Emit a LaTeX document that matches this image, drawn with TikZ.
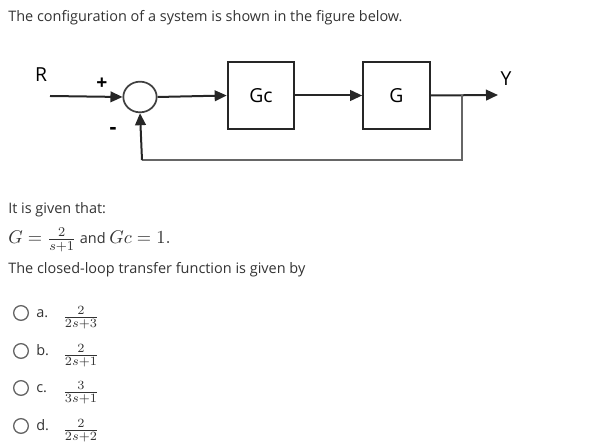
\documentclass[tikz,border=0pt]{standalone}
\usepackage{fontspec}
\setmainfont{Open Sans}
\usetikzlibrary{arrows.meta,shapes.geometric}
\definecolor{txt}{HTML}{333333}
\definecolor{radio}{HTML}{666666}
\newcommand{\mathbig}[1]{\scalebox{1.26}{$#1$}}
\begin{document}
\begin{tikzpicture}[x=0.75pt,y=-0.75pt,
  body/.style={anchor=base west,inner sep=0pt,text=txt,font=\fontsize{10.85}{13}\selectfont},
  blk/.style={draw=black!85,line width=1.5pt,minimum width=50pt,minimum height=50pt,inner sep=0pt,font=\fontsize{14.5}{16}\selectfont},
  sig/.style={line width=1.5pt,draw=black!85},
  arr/.style={sig,-{Triangle[length=9pt,width=8pt]}},
  lbl/.style={inner sep=0pt,font=\fontsize{14.5}{16}\selectfont},
  opt/.style={draw=radio,line width=1pt,circle,minimum size=11pt,inner sep=0pt},
  optl/.style={anchor=base west,inner sep=0pt,text=txt,font=\fontsize{10.85}{13}\selectfont},
  frac/.style={inner sep=0pt,text=txt}]
\useasboundingbox (0,0) rectangle (594,448);
\node[body] (title) at (8,22) {The configuration of a system is shown in the figure below.};
% diagram
\coordinate (rin) at (50,96);
\node[lbl] (R) at (41,75) {R};
\node[draw=black!75,line width=1.3pt,ellipse,minimum width=25pt,minimum height=23pt,inner sep=0pt] (sum) at (140,97) {};
\node[lbl] (plus) at (102,84) {\textbf{+}};
\node[lbl] (minus) at (113,131) {\textbf{\fontsize{16}{16}\selectfont -}};
\node[blk] (gc) at (261,95.5) {Gc};
\node[blk] (g) at (396.5,95.5) {G};
\coordinate (yout) at (498,95);
\node[lbl] (Y) at (506,79) {Y};
\coordinate (br) at (462,95);
\coordinate (fb1) at (462,160);
\coordinate (fb2) at (142,160);
\draw[arr] (rin) -- (sum.west);
\draw[arr] (sum.east) -- (gc.west);
\draw[arr] (gc.east) -- (g.west);
\draw[arr] (g.east) -- (yout);
\draw[sig,line width=1.2pt,draw=black!60] (br) -- (fb1) -- (fb2);
\draw[arr] (fb2) -- (sum.south);
% text
\node[body] (given) at (8,214) {It is given that:};
\node[body] (eq) at (8,244) {\mathbig{G=\frac{2}{s+1}} and \mathbig{Gc=1.}};
\node[body] (cl) at (8,274) {The closed-loop transfer function is given by};
% options
\foreach \y/\l/\n/\d [count=\i] in {313/a./2/2s+3,351/b./2/2s+1,388/c./3/3s+1,426/d./2/2s+2}{
  \node[opt] (r\i) at (21,\y) {};
  \node[optl] (l\i) at (36,\y+5) {\l};
  \node[frac] (f\i) at (81,\y+5) {\scalebox{1.35}{$\frac{\n}{\d}$}};
}
\end{tikzpicture}
\end{document}
